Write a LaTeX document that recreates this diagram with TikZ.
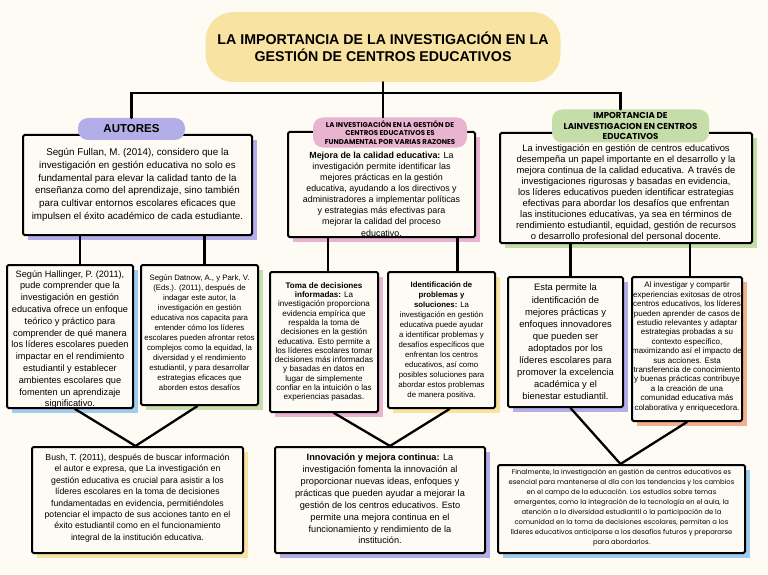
\documentclass[tikz,border=0pt]{standalone}
\usepackage{fontspec}
\setmainfont{Liberation Sans}
\newfontfamily\popfont{Poppins}

\definecolor{fondo}{HTML}{FDFBF4}
\definecolor{amarillo}{HTML}{F9E3A3}
\definecolor{morado}{HTML}{B4AEE8}
\definecolor{rosa}{HTML}{E8B4CF}
\definecolor{verde}{HTML}{C5DDA9}
\definecolor{azul}{HTML}{9ECDF0}
\definecolor{naranja}{HTML}{F2B18E}

\begin{document}
\begin{tikzpicture}[
    x=1pt, y=-1pt,
    % Estilos: lineas de la red, cajas y etiquetas de color
    linea/.style={line width=2.3pt, line cap=round},
    caja/.style={draw, line width=2pt, rounded corners=1.5pt, inner sep=0pt},
    texto/.style={align=center, inner sep=0pt},
    etiqueta/.style={align=center, inner sep=0pt, rounded corners=10pt}
]

% =========================================================
% === PARAMETROS GENERALES ===
% =========================================================
\def\sombra{5}   % desplazamiento de la sombra de color
% =========================================================

% Macro para cada caja con sombra
% #1: nombre del node
% #2,#3: esquina superior izquierda  #4,#5: esquina inferior derecha
% #6: color de la sombra
% #7: opciones del texto  #8: texto
\def\caja#1(#2,#3,#4,#5)[#6]#7#8{
    \fill[#6] ({#2+\sombra},{#3+\sombra}) rectangle ({#4+\sombra},{#5+\sombra});
    \fill[fondo] (#2,#3) rectangle (#4,#5);
    \node[texto, #7] (txt#1) at ({(#2+#4)/2},{(#3+#5)/2}) {#8};
    \node[caja, minimum width={(#4-#2)*1pt}, minimum height={(#5-#3)*1pt}]
        (#1) at ({(#2+#4)/2},{(#3+#5)/2}) {};
}

% fondo y marco de la imagen
\fill[fondo] (0,0) rectangle (768,575);
\useasboundingbox (0,0) rectangle (768,575);

% --- Titulo ---
\node[etiqueta, fill=amarillo, rounded corners=28pt, minimum width=355pt, minimum height=70pt,
      font=\bfseries\fontsize{14.2}{16.5}\selectfont] (titulo) at (383,47)
    {LA IMPORTANCIA DE LA INVESTIGACIÓN EN LA\\GESTIÓN DE CENTROS EDUCATIVOS};

% --- COLUMNA 1 (Autores) ---
\caja{fullan}(23,135,252,235)[morado]{font=\fontsize{9.8}{12.8}\selectfont}
    {Según Fullan, M. (2014), considero que la\\ investigación en gestión educativa no solo es\\
     fundamental para elevar la calidad tanto de la\\ enseñanza como del aprendizaje, sino también\\
     para cultivar entornos escolares eficaces que\\ impulsen el éxito académico de cada estudiante.}
\caja{hallinger}(7,265,133,408)[azul]{font=\fontsize{9.2}{11.8}\selectfont, yshift=-3pt}
    {Según Hallinger, P. (2011),\\ pude comprender que la\\ investigación en gestión\\
     educativa ofrece un enfoque\\ teórico y práctico para\\ comprender de qué manera\\
     los líderes escolares pueden\\ impactar en el rendimiento\\ estudiantil y establecer\\
     ambientes escolares que\\ fomenten un aprendizaje\\ significativo.}
\caja{datnow}(141,265,258,405)[verde]{font=\fontsize{7.8}{10}\selectfont, yshift=2pt}
    {Según Datnow, A., y Park, V.\\ (Eds.). (2011), después de\\ indagar este autor, la\\
     investigación en gestión\\ educativa nos capacita para\\ entender cómo los líderes\\
     escolares pueden afrontar retos\\ complejos como la equidad, la\\ diversidad y el rendimiento\\
     estudiantil, y para desarrollar\\ estrategias eficaces que\\ aborden estos desafíos}
\caja{bush}(32,447,243,553)[amarillo]{font=\fontsize{8.7}{11.4}\selectfont, yshift=2pt}
    {Bush, T. (2011), después de buscar información\\ el autor e expresa, que La investigación en\\
     gestión educativa es crucial para asistir a los\\ líderes escolares en la toma de decisiones\\
     fundamentadas en evidencia, permitiéndoles\\ potenciar el impacto de sus acciones tanto en el\\
     éxito estudiantil como en el funcionamiento\\ integral de la institución educativa.}

% --- COLUMNA 2 (Razones) ---
\caja{mejora}(288,132,475,237)[rosa]{font=\fontsize{8.9}{11.1}\selectfont, yshift=-9.5pt}
    {\textbf{Mejora de la calidad educativa:} La\\ investigación permite identificar las\\
     mejores prácticas en la gestión\\ educativa, ayudando a los directivos y\\
     administradores a implementar políticas\\ y estrategias más efectivas para\\
     mejorar la calidad del proceso\\ educativo.}
\caja{toma}(270,272,378,412)[rosa]{font=\fontsize{8.1}{9.3}\selectfont}
    {\textbf{Toma de decisiones}\\ \textbf{informadas:} La\\ investigación proporciona\\
     evidencia empírica que\\ respalda la toma de\\ decisiones en la gestión\\
     educativa. Esto permite a\\ los líderes escolares tomar\\ decisiones más informadas\\
     y basadas en datos en\\ lugar de simplemente\\ confiar en la intuición o las\\ experiencias pasadas.}
\caja{problemas}(388,272,495,408)[amarillo]{font=\fontsize{7.8}{10}\selectfont}
    {\textbf{Identificación de}\\ \textbf{problemas y}\\ \textbf{soluciones:} La\\
     investigación en gestión\\ educativa puede ayudar\\ a identificar problemas y\\
     desafíos específicos que\\ enfrentan los centros\\ educativos, así como\\
     posibles soluciones para\\ abordar estos problemas\\ de manera positiva.}
\caja{innovacion}(275,447,485,553)[morado]{font=\fontsize{9.2}{11.9}\selectfont, yshift=1pt}
    {\textbf{Innovación y mejora continua:} La\\ investigación fomenta la innovación al\\
     proporcionar nuevas ideas, enfoques y\\ prácticas que pueden ayudar a mejorar la\\
     gestión de los centros educativos. Esto\\ permite una mejora continua en el\\
     funcionamiento y rendimiento de la\\ institución.}

% --- COLUMNA 3 (Importancia) ---
\caja{importancia}(500,133,752,243)[verde]{font=\fontsize{9.4}{11}\selectfont, yshift=-5.5pt}
    {La investigación en gestión de centros educativos\\ desempeña un papel importante en el desarrollo y la\\
     mejora continua de la calidad educativa. A través de\\ investigaciones rigurosas y basadas en evidencia,\\
     los líderes educativos pueden identificar estrategias\\ efectivas para abordar los desafíos que enfrentan\\
     las instituciones educativas, ya sea en términos de\\ rendimiento estudiantil, equidad, gestión de recursos\\
     o desarrollo profesional del personal docente.}
\caja{permite}(508,277,623,407)[morado]{font=\fontsize{9.4}{12.1}\selectfont}
    {Esta permite la\\ identificación de\\ mejores prácticas y\\ enfoques innovadores\\
     que pueden ser\\ adoptados por los\\ líderes escolares para\\ promover la excelencia\\
     académica y el\\ bienestar estudiantil.}
\caja{compartir}(632,277,742,421)[naranja]{font=\fontsize{8}{9.4}\selectfont, yshift=2pt}
    {Al investigar y compartir\\ experiencias exitosas de otros\\ centros educativos, los líderes\\
     pueden aprender de casos de\\ estudio relevantes y adaptar\\ estrategias probadas a su\\
     contexto específico,\\ maximizando así el impacto de\\ sus acciones. Esta\\
     transferencia de conocimiento\\ y buenas prácticas contribuye\\ a la creación de una\\
     comunidad educativa más\\ colaborativa y enriquecedora.}
\caja{finalmente}(498,465,745,553)[azul]{font=\popfont\fontsize{6.8}{10}\selectfont, yshift=1pt}
    {Finalmente, la investigación en gestión de centros educativos es\\
     esencial para mantenerse al día con las tendencias y los cambios\\
     en el campo de la educación. Los estudios sobre temas\\
     emergentes, como la integración de la tecnología en el aula, la\\
     atención a la diversidad estudiantil o la participación de la\\
     comunidad en la toma de decisiones escolares, permiten a los\\
     líderes educativos anticiparse a los desafíos futuros y prepararse\\
     para abordarlos.}

% --- Etiquetas de color (encima del borde de las cajas) ---
\node[etiqueta, fill=morado, minimum width=107pt, minimum height=22pt,
      font=\bfseries\fontsize{11.5}{13}\selectfont] (autores) at (131.5,129) {AUTORES};
\node[etiqueta, fill=rosa, minimum width=154pt, minimum height=30pt,
      font=\popfont\bfseries\fontsize{7}{8.6}\selectfont] (razones) at (390,132.5)
    {LA INVESTIGACIÓN EN LA GESTIÓN DE\\ CENTROS EDUCATIVOS ES\\ FUNDAMENTAL POR VARIAS RAZONES};
\node[etiqueta, fill=verde, minimum width=157pt, minimum height=33pt,
      font=\popfont\bfseries\fontsize{8.6}{10.5}\selectfont] (importa) at (630.5,126)
    {IMPORTANCIA DE\\ LAINVESTIGACION EN CENTROS\\ EDUCATIVOS};

% --- Lineas del titulo a las tres columnas ---
\coordinate (bus) at ([yshift=-11pt]titulo.south);
\draw[linea] (titulo.south) -- (bus);
\draw[linea] (autores.north) |- (bus) -| ([xshift=-10pt]importa.north);
\draw[linea] (bus) -- (razones.north -| bus);

% --- Lineas verticales hacia las cajas hijas ---
\draw[linea] ([xshift=10pt]hallinger.north |- fullan.south) -- ([xshift=10pt]hallinger.north);
\draw[linea] ([xshift=5pt]datnow.north |- fullan.south) -- ([xshift=5pt]datnow.north);
\draw[linea] ([xshift=4pt]toma.north |- mejora.south) -- ([xshift=4pt]toma.north);
\draw[linea] ([xshift=16pt]problemas.north |- mejora.south) -- ([xshift=16pt]problemas.north);
\draw[linea] ([xshift=5pt]permite.north |- importancia.south) -- ([xshift=5pt]permite.north);
\draw[linea] ([xshift=3pt]compartir.north |- importancia.south) -- ([xshift=3pt]compartir.north);

% --- Lineas en V hacia las cajas de abajo ---
\draw[linea] ([xshift=5pt]hallinger.south) -- ([xshift=-2pt]bush.north) -- ([xshift=-2pt]datnow.south);
\draw[linea] ([xshift=10pt]toma.south) -- ([xshift=10pt]innovacion.north) -- ([xshift=8pt]problemas.south);
\draw[linea] ([xshift=5pt]permite.south) -- ([xshift=-1pt]finalmente.north) -- (compartir.south);

\end{tikzpicture}
\end{document}
